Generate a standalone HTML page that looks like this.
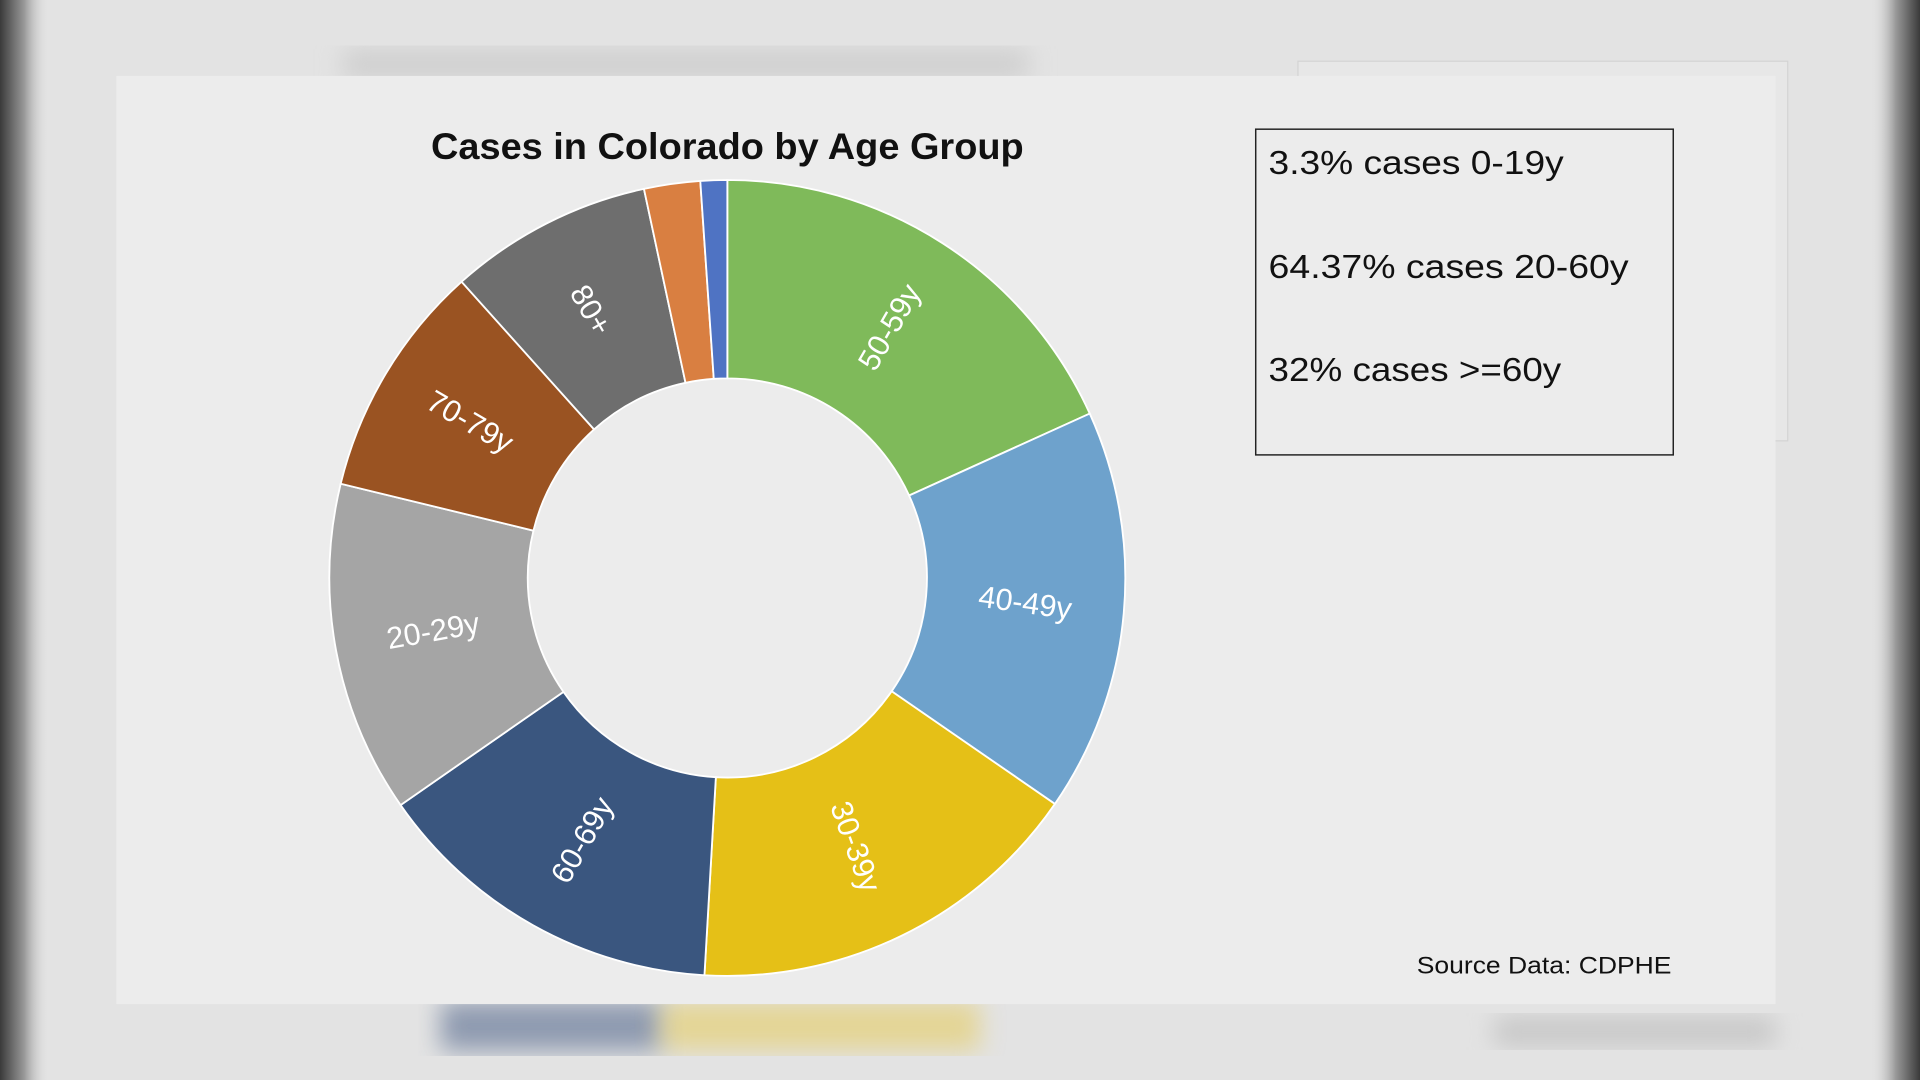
<!DOCTYPE html>
<html><head><meta charset="utf-8"><style>
html,body{margin:0;padding:0;width:1920px;height:1080px;overflow:hidden;background:#e6e6e6}
svg{display:block}
</style></head><body>
<svg id="s" width="1920" height="1080" viewBox="0 0 1568 882" preserveAspectRatio="none" xmlns="http://www.w3.org/2000/svg">
<defs>
<linearGradient id="gl" x1="0" x2="1"><stop offset="0" stop-color="#3a3a3a"/><stop offset="0.5" stop-color="#9a9a9a"/><stop offset="1" stop-color="#e2e2e2" stop-opacity="0"/></linearGradient>
<linearGradient id="gr" x1="1" x2="0"><stop offset="0" stop-color="#3a3a3a"/><stop offset="0.5" stop-color="#9a9a9a"/><stop offset="1" stop-color="#e2e2e2" stop-opacity="0"/></linearGradient>
<filter id="b"><feGaussianBlur stdDeviation="10"/></filter>
</defs>
<rect width="1568" height="882" fill="#e3e3e3"/>
<rect x="280" y="40" width="560" height="25" fill="#cfcfcf" filter="url(#b)"/>
<rect x="1060" y="50" width="400" height="310" fill="#e7e7e7" stroke="#d4d4d4"/>
<rect x="360" y="818" width="180" height="40" fill="#4a5f86" filter="url(#b)" opacity="0.55"/>
<rect x="540" y="818" width="260" height="40" fill="#e5c84a" filter="url(#b)" opacity="0.5"/>
<rect x="1220" y="830" width="230" height="25" fill="#c8c8c8" filter="url(#b)"/>
<rect x="95" y="62" width="1355" height="758" fill="#ececec"/>
<rect x="0" y="0" width="40" height="882" fill="url(#gl)"/>
<rect x="1528" y="0" width="40" height="882" fill="url(#gr)"/>
<g id="d"></g>
<text x="352" y="130" textLength="484" lengthAdjust="spacingAndGlyphs" font-family="Liberation Sans, sans-serif" font-weight="bold" font-size="30" fill="#111">Cases in Colorado by Age Group</text>
<rect x="1025.5" y="105.5" width="341" height="266" fill="none" stroke="#222" stroke-width="1.2"/>
<g font-family="Liberation Sans, sans-serif" font-size="27" fill="#111">
<text x="1036" y="142" textLength="241" lengthAdjust="spacingAndGlyphs">3.3% cases 0-19y</text>
<text x="1036" y="227" textLength="294" lengthAdjust="spacingAndGlyphs">64.37% cases 20-60y</text>
<text x="1036" y="311" textLength="239" lengthAdjust="spacingAndGlyphs">32% cases &gt;=60y</text>
</g>
<text x="1157" y="795" textLength="208" lengthAdjust="spacingAndGlyphs" font-family="Liberation Sans, sans-serif" font-size="20" fill="#111">Source Data: CDPHE</text>
<g font-family="Liberation Sans, sans-serif" font-size="25" fill="#fff" text-anchor="middle" dominant-baseline="middle">
<text transform="translate(728,268) rotate(-60)">50-59y</text>
<text transform="translate(837,494) rotate(8)">40-49y</text>
<text transform="translate(697,692) rotate(70)">30-39y</text>
<text transform="translate(477,687) rotate(-60)">60-69y</text>
<text transform="translate(354,517) rotate(-10)">20-29y</text>
<text transform="translate(383,346) rotate(30)">70-79y</text>
<text transform="translate(481,254) rotate(60)">80+</text>
</g>
</svg>
<script>
var cx=594,cy=472,R=325,r=163;
var s=[[0,65.6,"#7fba5a"],[65.6,124.6,"#6ea2cc"],[124.6,183.3,"#e5c017"],[183.3,235.2,"#3a567f"],[235.2,283.7,"#a5a5a5"],[283.7,318.1,"#9a5322"],[318.1,347.9,"#6e6e6e"],[347.9,356.1,"#d97f41"],[356.1,360,"#4f73c3"]];
function p(a,rad){a=a*Math.PI/180;return [cx+rad*Math.sin(a),cy-rad*Math.cos(a)];}
var g=document.getElementById("d"),h="";
s.forEach(function(e){var a=p(e[0],R),b=p(e[1],R),c=p(e[1],r),d=p(e[0],r),l=(e[1]-e[0])>180?1:0;
h+='<path d="M'+a+' A'+R+' '+R+' 0 '+l+' 1 '+b+' L'+c+' A'+r+' '+r+' 0 '+l+' 0 '+d+' Z" fill="'+e[2]+'" stroke="#fff" stroke-width="1.5"/>';});
g.innerHTML=h;
</script>
</body></html>
